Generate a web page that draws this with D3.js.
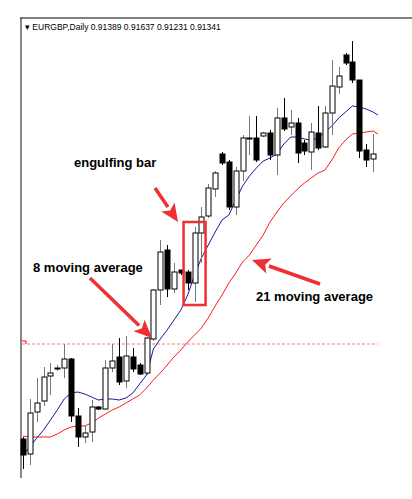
<!DOCTYPE html>
<html><head><meta charset="utf-8">
<script src="https://cdn.jsdelivr.net/npm/d3@7"></script>
<style>body{margin:0;background:#fff}</style>
</head><body><div id="chart"></div>
<script>
// EURGBP daily candles: open, high, low, close
const opens  = [.8911,.8896,.8938,.8949,.8974,.8982,.8982,.8991,.8934,.8913,.8918,.8943,.8941,.8982,.8993,.8969,.8993,.8985,.8977,.9011,.9060,.9100,.9061,.9080,.9078,.9067,.9117,.9134,.9161,.9196,.9188,.9143,.9179,.9212,.9212,.9214,.9217,.9195,.9232,.9223,.9227,.9207,.9198,.9217,.9203,.9237,.9263,.9295,.9288,.9270,.9200,.9191];
const highs  = [.8913,.8951,.8972,.8983,.8987,.8985,.9006,.8992,.8942,.8924,.8950,.8944,.8990,.9006,.9012,.9014,.9002,.8987,.9013,.9061,.9110,.9105,.9087,.9080,.9080,.9123,.9143,.9166,.9179,.9198,.9190,.9183,.9215,.9234,.9234,.9218,.9220,.9242,.9252,.9240,.9232,.9210,.9227,.9244,.9244,.9290,.9283,.9297,.9309,.9270,.9206,.9216];
const lows   = [.8881,.8885,.8928,.8944,.8955,.8979,.8972,.8928,.8903,.8907,.8908,.8940,.8940,.8978,.8965,.8962,.8978,.8975,.8975,.9009,.9045,.9053,.9057,.9075,.9060,.9048,.9087,.9132,.9153,.9185,.9140,.9135,.9169,.9195,.9188,.9213,.9190,.9175,.9219,.9215,.9187,.9195,.9180,.9200,.9202,.9215,.9256,.9285,.9267,.9192,.9183,.9178];
const closes = [.8895,.8937,.8947,.8973,.8977,.8982,.8991,.8934,.8913,.8917,.8943,.8941,.8982,.8989,.8968,.8994,.8981,.8976,.9012,.9060,.9098,.9061,.9078,.9077,.9067,.9117,.9133,.9162,.9177,.9187,.9143,.9179,.9212,.9212,.9190,.9217,.9195,.9232,.9221,.9227,.9197,.9199,.9218,.9202,.9237,.9264,.9274,.9287,.9270,.9199,.9190,.9196];
const ma8  = [.8895,.8903,.8912,.8920,.8930,.8940,.8951,.8957,.8958,.8956,.8953,.8950,.8951,.8951,.8950,.8952,.8957,.8966,.8975,.9001,.9011,.9020,.9030,.9040,.9055,.9075,.9092,.9105,.9118,.9130,.9135,.9150,.9164,.9174,.9182,.9189,.9192,.9196,.9206,.9213,.9213,.9211,.9210,.9212,.9218,.9224,.9232,.9238,.9244,.9243,.9241,.9238];
const ma21 = [.8914,.8913,.8913,.8913,.8913,.8916,.8920,.8923,.8924,.8924,.8927,.8932,.8936,.8940,.8943,.8947,.8951,.8955,.8962,.8970,.8977,.8985,.8993,.9000,.9008,.9015,.9022,.9032,.9044,.9055,.9067,.9077,.9088,.9095,.9105,.9115,.9128,.9138,.9147,.9154,.9161,.9167,.9172,.9177,.9180,.9190,.9202,.9210,.9216,.9217,.9218,.9219];
const priceLevel = .9006;
const engulfIndex = 25;

const W = 412, H = 499;
const svg = d3.select("#chart").append("svg").attr("width", W).attr("height", H);
const x = d3.scaleLinear().domain([0, 51]).range([23, 373]);
const y = d3.scaleLinear().domain([0.8850, 0.9350]).range([500, 0]);

// frame
svg.append("line").attr("x1", 21).attr("x2", 21).attr("y1", 18).attr("y2", 478).attr("stroke", "#888").attr("stroke-width", 2);
svg.append("line").attr("x1", 20).attr("x2", W).attr("y1", 18).attr("y2", 18).attr("stroke", "#000").attr("stroke-width", 1);
svg.append("text").attr("x", 25).attr("y", 30).attr("font-family", "Liberation Sans, Arial").attr("font-size", 8.5)
  .text("\u25BE EURGBP,Daily  0.91389 0.91637 0.91231 0.91341");

// price level
svg.append("line").attr("x1", 22).attr("x2", 378).attr("y1", y(priceLevel)).attr("y2", y(priceLevel))
  .attr("stroke", "#f55").attr("stroke-dasharray", "3,2").attr("stroke-width", 0.8);
svg.append("path").attr("d", `M22,${y(priceLevel) - 3}h4v3`).attr("stroke", "#f00").attr("fill", "none");

// moving averages
const ext = d3.range(52);
const line = arr => d3.line().x(i => x(i)).y(i => y(arr[i]))(ext) + `L378,${y(arr[51]) + 3}`;
svg.append("path").attr("d", line(ma21)).attr("fill", "none").attr("stroke", "#f00").attr("stroke-width", 0.9);
svg.append("path").attr("d", line(ma8)).attr("fill", "none").attr("stroke", "#00008b").attr("stroke-width", 0.9);

// candles
const data = ext.map(i => ({ i, o: opens[i], h: highs[i], l: lows[i], c: closes[i] }));
const g = svg.append("g");
g.selectAll("line.w").data(data).enter().append("line")
  .attr("x1", d => Math.round(x(d.i)) + 0.5).attr("x2", d => Math.round(x(d.i)) + 0.5)
  .attr("y1", d => y(d.h)).attr("y2", d => y(d.l))
  .attr("stroke", d => d.c >= d.o ? "#777" : "#000").attr("stroke-width", 1);
g.selectAll("rect").data(data).enter().append("rect")
  .attr("x", d => Math.round(x(d.i)) - 2).attr("width", 5)
  .attr("y", d => y(Math.max(d.o, d.c))).attr("height", d => Math.max(1, Math.abs(y(d.o) - y(d.c))))
  .attr("fill", d => d.c >= d.o ? "#fff" : "#000").attr("stroke", "#000").attr("stroke-width", 1);

// annotations
const red = "#f03030";
svg.append("rect").attr("x", x(engulfIndex) - 11).attr("y", 222).attr("width", 22).attr("height", 83)
  .attr("fill", "none").attr("stroke", red).attr("stroke-width", 2.5);
function arrow(x1, y1, x2, y2) {
  const a = Math.atan2(y2 - y1, x2 - x1), L = 18, wd = 8;
  const bx = x2 - L * Math.cos(a), by = y2 - L * Math.sin(a);
  svg.append("line").attr("x1", x1).attr("y1", y1).attr("x2", bx).attr("y2", by).attr("stroke", red).attr("stroke-width", 3.5);
  svg.append("path").attr("fill", red).attr("d",
    `M${x2},${y2}L${bx + wd * Math.sin(a)},${by - wd * Math.cos(a)}L${bx + 4 * Math.cos(a)},${by + 4 * Math.sin(a)}L${bx - wd * Math.sin(a)},${by + wd * Math.cos(a)}Z`);
}
arrow(155, 188, 178, 222);
arrow(90, 278, 152, 338);
arrow(320, 284, 252, 260);
const txt = (tx, ty, s) => svg.append("text").attr("x", tx).attr("y", ty).attr("font-family", "Liberation Sans, Arial")
  .attr("font-size", 13).attr("font-weight", "bold").text(s);
txt(74, 167, "engulfing bar");
txt(33, 272, "8 moving average");
txt(256, 301, "21 moving average");
</script></body></html>
